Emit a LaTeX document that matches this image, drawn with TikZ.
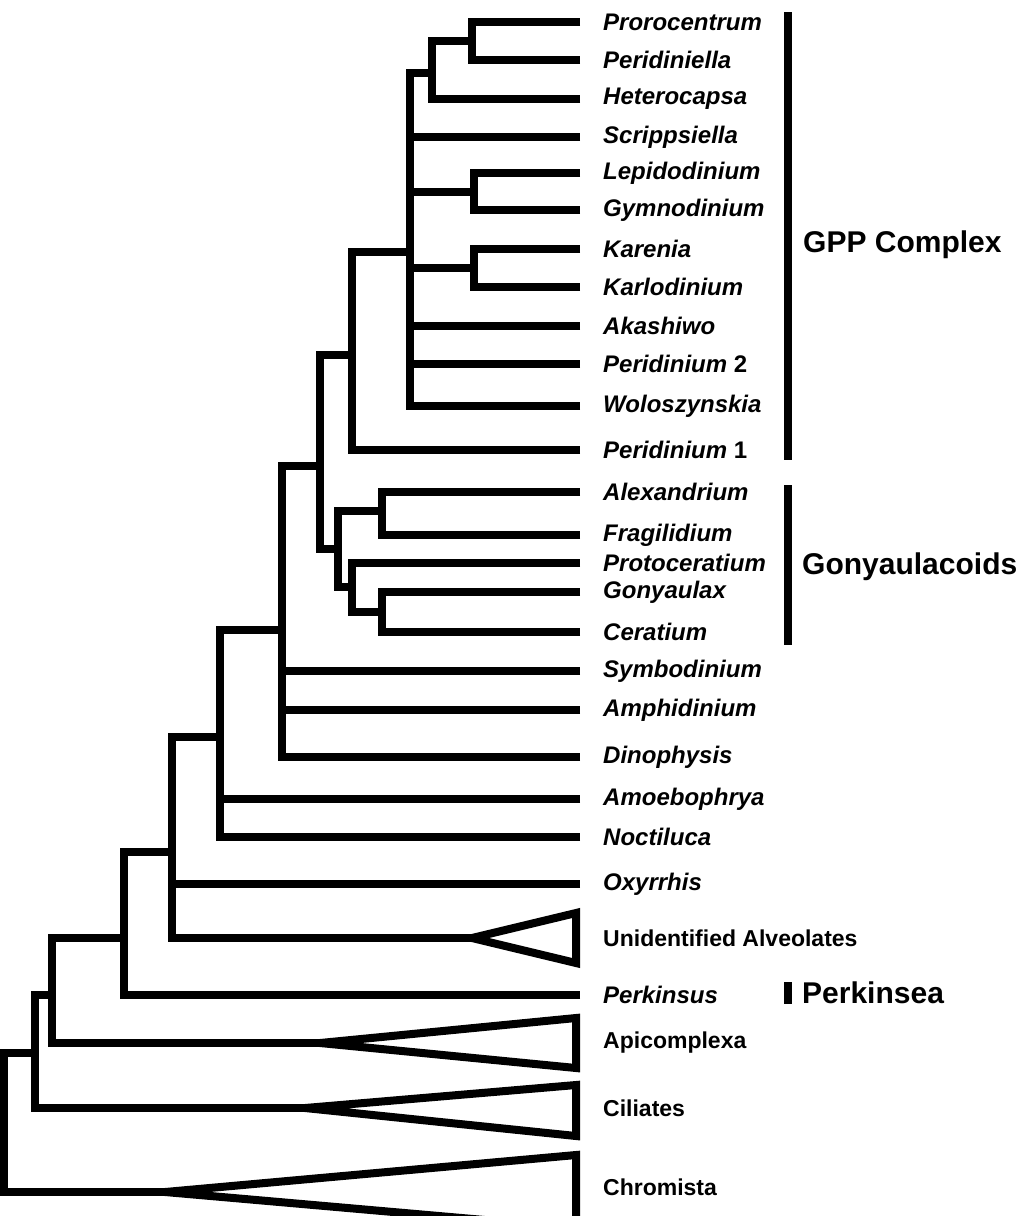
\documentclass[tikz,border=0pt]{standalone}
\usepackage{fontspec}
\setmainfont{Liberation Sans}
\begin{document}
\begin{tikzpicture}[x=1pt,y=-1pt,
  br/.style={line width=8pt,line join=miter},
  lab/.style={anchor=west,inner sep=0pt,font=\fontsize{24}{26}\selectfont\bfseries\itshape},
  labu/.style={anchor=west,inner sep=0pt,font=\fontsize{23}{26}\selectfont\bfseries},
  grp/.style={anchor=west,inner sep=0pt,font=\fontsize{30}{34}\selectfont\bfseries},
  bar/.style={line width=8pt}]
\useasboundingbox (0,0) rectangle (1028,1216);
\clip (0,0) rectangle (1028,1216);
% leaf ends
\foreach \n/\y in {pro/22,pdl/60,het/99,scr/137,lep/173,gym/210,kar/249,kal/287,aka/326,pe2/364,wol/406,pe1/450,ale/492,fra/535,prt/563,gon/592,cer/632,sym/671,amp/710,din/757,amo/799,noc/837,oxy/884,per/995}
  \coordinate (\n) at (580,\y);
% internal nodes
\coordinate (A) at (472,41);
\coordinate (B) at (432,73);
\coordinate (LG) at (474,192);
\coordinate (KK) at (474,268);
\coordinate (C) at (410,252);
\coordinate (D) at (352,355);
\coordinate (E) at (382,511);
\coordinate (F) at (382,612);
\coordinate (G) at (352,587);
\coordinate (H) at (338,549);
\coordinate (I) at (320,466);
\coordinate (J) at (282,630);
\coordinate (K) at (220,737);
\coordinate (L) at (172,852);
\coordinate (M) at (124,938);
\coordinate (N) at (52,995);
\coordinate (O) at (35,1053);
\coordinate (R) at (4,1053);
\coordinate (unid) at (472,938);
\coordinate (apic) at (320,1043);
\coordinate (cili) at (305,1108);
\coordinate (chro) at (165,1192);
% branches
\draw[br] (pro) -| (A); \draw[br] (pdl) -| (A);
\draw[br] (A) -| (B); \draw[br] (het) -| (B);
\draw[br] (lep) -| (LG); \draw[br] (gym) -| (LG);
\draw[br] (kar) -| (KK); \draw[br] (kal) -| (KK);
\draw[br] (B) -| (C); \draw[br] (scr) -| (C); \draw[br] (LG) -| (C); \draw[br] (KK) -| (C);
\draw[br] (aka) -| (C); \draw[br] (pe2) -| (C); \draw[br] (wol) -| (C);
\draw[br] (C) -| (D); \draw[br] (pe1) -| (D);
\draw[br] (ale) -| (E); \draw[br] (fra) -| (E);
\draw[br] (gon) -| (F); \draw[br] (cer) -| (F);
\draw[br] (prt) -| (G); \draw[br] (F) -| (G);
\draw[br] (E) -| (H); \draw[br] (G) -| (H);
\draw[br] (D) -| (I); \draw[br] (H) -| (I);
\draw[br] (I) -| (J); \draw[br] (sym) -| (J); \draw[br] (amp) -| (J); \draw[br] (din) -| (J);
\draw[br] (J) -| (K); \draw[br] (amo) -| (K); \draw[br] (noc) -| (K);
\draw[br] (K) -| (L); \draw[br] (oxy) -| (L); \draw[br] (unid) -| (L);
\draw[br] (L) -| (M); \draw[br] (per) -| (M);
\draw[br] (M) -| (N); \draw[br] (apic) -| (N);
\draw[br] (N) -| (O); \draw[br] (cili) -| (O);
\draw[br] (O) -- (R) |- (chro);
% collapsed clades
\draw[br] (unid) -- (576,913) -- (576,963) -- cycle;
\draw[br] (apic) -- (576,1018) -- (576,1068) -- cycle;
\draw[br] (cili) -- (576,1085) -- (576,1136) -- cycle;
\draw[br] (chro) -- (576,1155) -- (576,1228) -- cycle;
% labels
\foreach \n/\t in {pro/Prorocentrum,pdl/Peridiniella,het/Heterocapsa,scr/Scrippsiella,lep/Lepidodinium,gym/Gymnodinium,kar/Karenia,kal/Karlodinium,aka/Akashiwo,wol/Woloszynskia,ale/Alexandrium,fra/Fragilidium,prt/Protoceratium,gon/Gonyaulax,cer/Ceratium,sym/Symbodinium,amp/Amphidinium,din/Dinophysis,amo/Amoebophrya,noc/Noctiluca,oxy/Oxyrrhis,per/Perkinsus}
  \node[lab] (t\n) at ([xshift=23pt]\n) {\t};
\node[lab] (tpe2) at ([xshift=23pt]pe2) {Peridinium \upshape 2};
\node[lab] (tpe1) at ([xshift=23pt]pe1) {Peridinium \upshape 1};
\node[labu] (tunid) at (603,938) {Unidentified Alveolates};
\node[labu] (tapic) at (603,1043) {Apicomplexa};
\node[labu] (tcili) at (603,1108) {Ciliates};
\node[labu] (tchro) at (603,1187) {Chromista};
% groups
\draw[bar] (788,12) -- (788,460);
\node[grp] (gpp) at (803,245) {GPP Complex};
\draw[bar] (788,485) -- (788,645);
\node[grp] (gon2) at (802,567) {Gonyaulacoids};
\draw[line width=8pt] (788,982) -- (788,1004);
\node[grp] (perk) at (802,993) {Perkinsea};
\end{tikzpicture}
\end{document}
